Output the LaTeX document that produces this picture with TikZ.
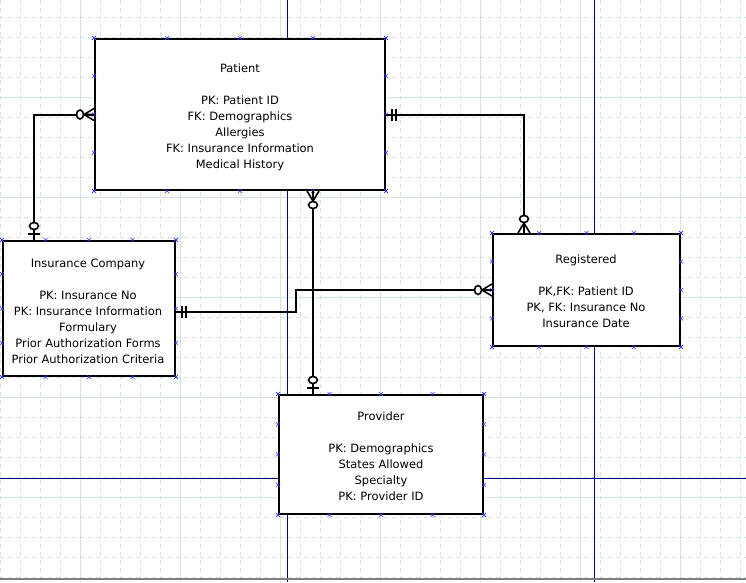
\documentclass[tikz,border=0pt]{standalone}
\usepackage{fontspec}
\usetikzlibrary{calc}
\setmainfont{DejaVu Sans}
\begin{document}
\begin{tikzpicture}[x=0.75pt,y=-0.75pt,
  box/.style={draw,line width=1.5pt,fill=white,rectangle,inner sep=0pt},
  txt/.style={align=center,anchor=north,font=\fontsize{8.6}{12}\selectfont,inner sep=0pt},
  rel/.style={line width=1.5pt},
  mk/.style={line width=1.2pt},
  pics/crow/.style={code={\draw[mk] (-10,0)--(0,-6) (-10,0)--(0,0) (-10,0)--(0,6);}},
  pics/circ/.style={code={\draw[mk,fill=white] (-14,0) ellipse (3.5 and 4.5);}},
  pics/bar/.style={code={\draw[mk] (-#1,-6)--(-#1,6);}},
  pics/xm/.style={code={\draw[blue!80,line width=0.5pt] (-2,-2)--(2,2) (-2,2)--(2,-2);}}]
\definecolor{grid}{RGB}{212,228,228}
\useasboundingbox (0,0) rectangle (746,582);
\fill[white] (0,0) rectangle (746,582);
% grid
\foreach \x in {0,20,...,740} \draw[grid,dashed,line width=0.5pt] (\x,0)--(\x,582);
\foreach \y in {17,37,...,577} \draw[grid,dashed,line width=0.5pt] (0,\y)--(746,\y);
\foreach \x in {80,180,...,680} \draw[grid,line width=0.7pt] (\x,0)--(\x,582);
\foreach \y in {97,197,...,497} \draw[grid,line width=0.7pt] (0,\y)--(746,\y);
\draw[blue!50!black,line width=0.7pt] (287,0)--(287,582) (594,0)--(594,582) (0,478)--(746,478);
\draw[gray,line width=1pt] (0,579)--(746,579);
% boxes
\node[box,minimum width=217.5pt,minimum height=113.25pt] (pat) at (240,114.5) {};
\node[box,minimum width=129pt,minimum height=101.25pt] (ins) at (89,308.5) {};
\node[box,minimum width=140.25pt,minimum height=84pt] (reg) at (586.5,290) {};
\node[box,minimum width=153pt,minimum height=89.25pt] (prov) at (381,454.5) {};
\node[txt] (patT) at (240,63.5) {Patient\\[12pt]PK: Patient ID\\FK: Demographics\\Allergies\\FK: Insurance Information\\Medical History};
\node[txt] (insT) at (88,258.5) {Insurance Company\\[12pt]PK: Insurance No\\PK: Insurance Information\\Formulary\\Prior Authorization Forms\\Prior Authorization Criteria};
\node[txt] (regT) at (586,254.5) {Registered\\[12pt]PK,FK: Patient ID\\PK, FK: Insurance No\\Insurance Date};
\node[txt] (provT) at (381,411.5) {Provider\\[12pt]PK: Demographics\\States Allowed\\Specialty\\PK: Provider ID};
% blue connection marks
\foreach \b in {pat,ins,reg,prov}{
  \foreach \t in {0,0.25,0.5,0.75,1}{
    \path ($(\b.north west)!\t!(\b.north east)$) pic{xm};
    \path ($(\b.south west)!\t!(\b.south east)$) pic{xm};
    \path ($(\b.north west)!\t!(\b.south west)$) pic{xm};
    \path ($(\b.north east)!\t!(\b.south east)$) pic{xm};
  }}
% relationships
\coordinate (a1) at (pat.west);
\coordinate (a2) at ([xshift=-41.25pt]ins.north);
\draw[rel] (a1) -| (a2);
\path (a1) pic{crow} pic{circ};
\path (a2) pic[rotate=-90]{circ} pic[rotate=-90]{bar=6};
\coordinate (b1) at (pat.east);
\coordinate (b2) at ([xshift=-46.875pt]reg.north);
\draw[rel] (b1) -| (b2);
\path (b1) pic[rotate=180]{bar=6} pic[rotate=180]{bar=10};
\path (b2) pic[rotate=-90]{crow} pic[rotate=-90]{circ};
\coordinate (c1) at ([xshift=54.75pt]pat.south);
\coordinate (c2) at ([xshift=-51pt]prov.north);
\draw[rel] (c1) -- (c2);
\path (c1) pic[rotate=90]{crow} pic[rotate=90]{circ};
\path (c2) pic[rotate=-90]{circ} pic[rotate=-90]{bar=6};
\coordinate (d1) at ([yshift=-2.625pt]ins.east);
\coordinate (d2) at (reg.west);
\draw[rel] (d1) -- (296,312) -- (296,290) -- (d2);
\path (d1) pic[rotate=180]{bar=6} pic[rotate=180]{bar=10};
\path (d2) pic{crow} pic{circ};
\end{tikzpicture}
\end{document}
